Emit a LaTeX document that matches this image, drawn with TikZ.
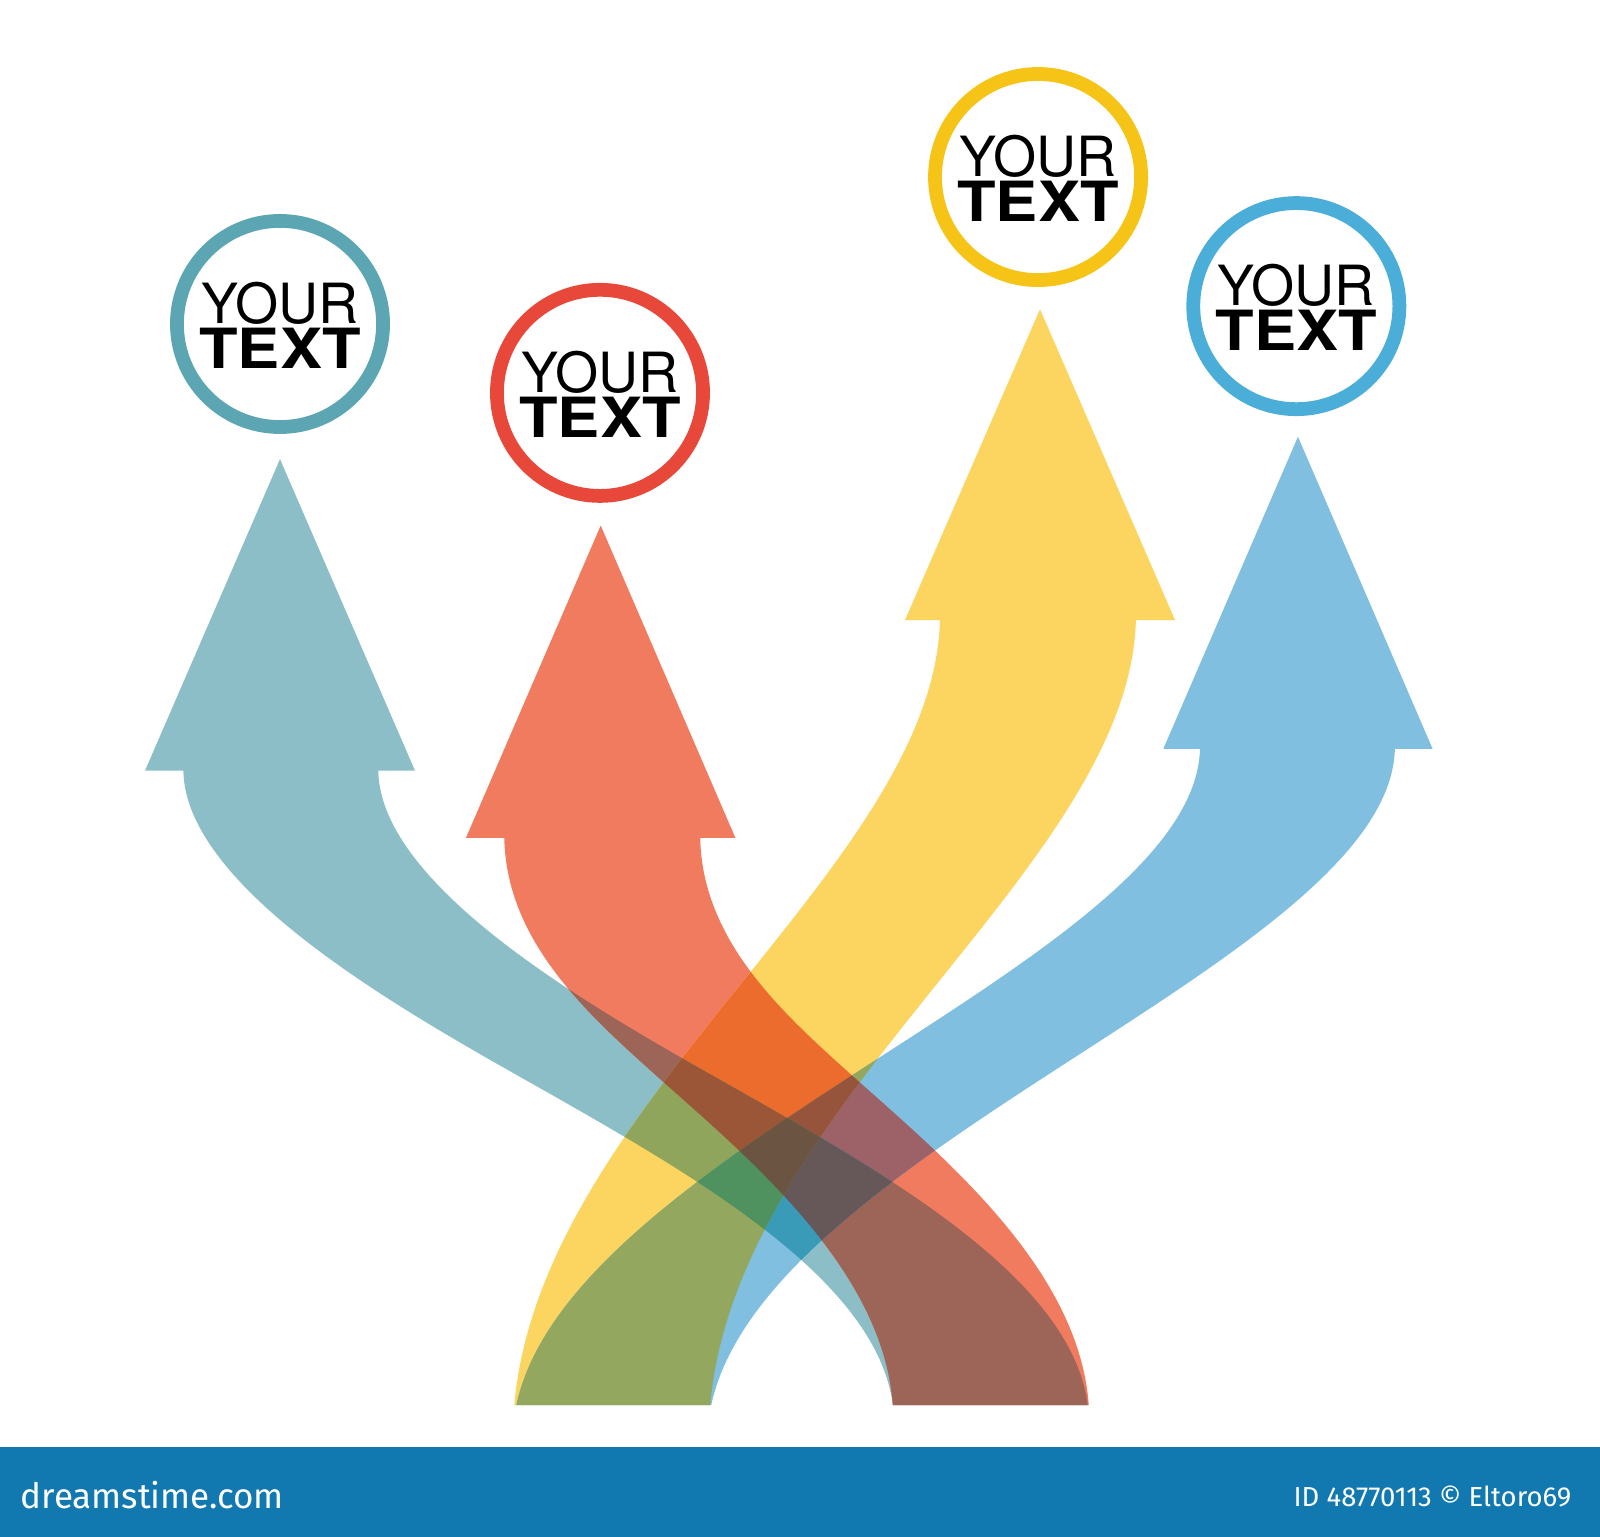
\documentclass[tikz,border=0pt]{standalone}
\usepackage{fontspec}
\setmainfont{TeX Gyre Heros}
\newfontfamily\fira{Fira Sans}
% single bands
\definecolor{cT}{RGB}{139,190,198}
\definecolor{cR}{RGB}{241,123,95}
\definecolor{cY}{RGB}{252,213,96}
\definecolor{cB}{RGB}{128,191,223}
% overlaps
\definecolor{cRT}{RGB}{157,100,88}
\definecolor{cRY}{RGB}{236,108,45}
\definecolor{cRB}{RGB}{156,98,104}
\definecolor{cTY}{RGB}{143,165,92}
\definecolor{cTB}{RGB}{58,155,184}
\definecolor{cYB}{RGB}{147,167,95}
\definecolor{cRTY}{RGB}{155,86,55}
\definecolor{cRTB}{RGB}{102,88,88}
\definecolor{cRYB}{RGB}{150,84,60}
\definecolor{cTYB}{RGB}{79,145,95}
\definecolor{cRTYB}{RGB}{108,84,67}
% rings
\definecolor{tealR}{RGB}{92,166,180}
\definecolor{redR}{RGB}{232,72,58}
\definecolor{yelR}{RGB}{246,196,22}
\definecolor{bluR}{RGB}{75,174,217}
\definecolor{barblue}{RGB}{17,120,176}
\tikzset{
  ring/.style={circle, draw, line width=13.5pt, fill=white, minimum size=202pt, inner sep=0pt},
  words/.style={align=center, inner sep=0pt, font=\fontsize{54.3pt}{44pt}\selectfont},
  footer/.style={text=white, inner sep=0pt}
}
\newcommand{\bigtext}{{\bfseries\scalebox{1.14}[1]{TEXT}}}
\def\pT{(179.7,755.3) -- (142.1,755.3) -- (274.4,450) -- (406.7,755.3) -- (370.7,755.3)
  .. controls (373,880) and (620,1009) .. (740,1077.6)
  .. controls (890,1163) and (1051,1260) .. (1066,1377) -- (875,1377)
  .. controls (860,1260) and (699,1163) .. (549,1077.6)
  .. controls (429,1009) and (182,880) .. (179.7,755.3) -- cycle}
\def\pR{(494.2,821) -- (456.7,821) -- (588.7,515) -- (720.6,821) -- (686.2,821)
  .. controls (688,920) and (764,990) .. (829,1048.6)
  .. controls (919,1129.6) and (1057,1240) .. (1067,1377) -- (875,1377)
  .. controls (865,1240) and (727,1129.6) .. (637,1048.6)
  .. controls (572,990) and (496,920) .. (494.2,821) -- cycle}
\def\pY{(921.2,607.6) -- (886.9,607.6) -- (1019.2,303) -- (1151.5,607.6) -- (1113.2,607.6)
  .. controls (1107,850) and (722,1080) .. (696,1377) -- (504,1377)
  .. controls (530,1080) and (915,850) .. (921.2,607.6) -- cycle}
\def\pB{(1176,734) -- (1140,734) -- (1272,428) -- (1404,734) -- (1367,734)
  .. controls (1361,940) and (751,1125) .. (697,1377) -- (506,1377)
  .. controls (560,1125) and (1170,940) .. (1176,734) -- cycle}
\begin{document}
\begin{tikzpicture}[x=1pt,y=-1pt]
\useasboundingbox (0,0) rectangle (1568,1506);
\fill[white] (0,0) rectangle (1568,1506);
% single bands
\fill[cT] \pT;
\fill[cR] \pR;
\fill[cY] \pY;
\fill[cB] \pB;
% pairs
\begin{scope}\clip \pR; \fill[cRT] \pT; \end{scope}
\begin{scope}\clip \pR; \fill[cRY] \pY; \end{scope}
\begin{scope}\clip \pR; \fill[cRB] \pB; \end{scope}
\begin{scope}\clip \pT; \fill[cTY] \pY; \end{scope}
\begin{scope}\clip \pT; \fill[cTB] \pB; \end{scope}
\begin{scope}\clip \pY; \fill[cYB] \pB; \end{scope}
% triples
\begin{scope}\clip \pR; \clip \pT; \fill[cRTY] \pY; \end{scope}
\begin{scope}\clip \pR; \clip \pT; \fill[cRTB] \pB; \end{scope}
\begin{scope}\clip \pR; \clip \pY; \fill[cRYB] \pB; \end{scope}
\begin{scope}\clip \pT; \clip \pY; \fill[cTYB] \pB; \end{scope}
% all four
\begin{scope}\clip \pR; \clip \pT; \clip \pY; \fill[cRTYB] \pB; \end{scope}
% circles
\node[ring, draw=tealR] (c1) at (274.4,317.5) {};
\node[ring, draw=redR] (c2) at (588,385) {};
\node[ring, draw=yelR] (c3) at (1017.3,173.5) {};
\node[ring, draw=bluR] (c4) at (1270.4,300) {};
\node[words] (w1) at (274.4,318.5) {YOUR\\\bigtext};
\node[words] (w2) at (588,386) {YOUR\\\bigtext};
\node[words] (w3) at (1017.3,174.5) {YOUR\\\bigtext};
\node[words] (w4) at (1270.4,301) {YOUR\\\bigtext};
% footer
\fill[barblue] (0,1418) rectangle (1568,1506);
\node[footer, anchor=base west] (ds) at (20,1478) {\resizebox{258pt}{!}{\fira dreamstime.com}};
\node[footer, anchor=base east] (id) at (1540,1476) {\resizebox{272pt}{!}{\fira ID 48770113 © Eltoro69}};
\end{tikzpicture}
\end{document}
